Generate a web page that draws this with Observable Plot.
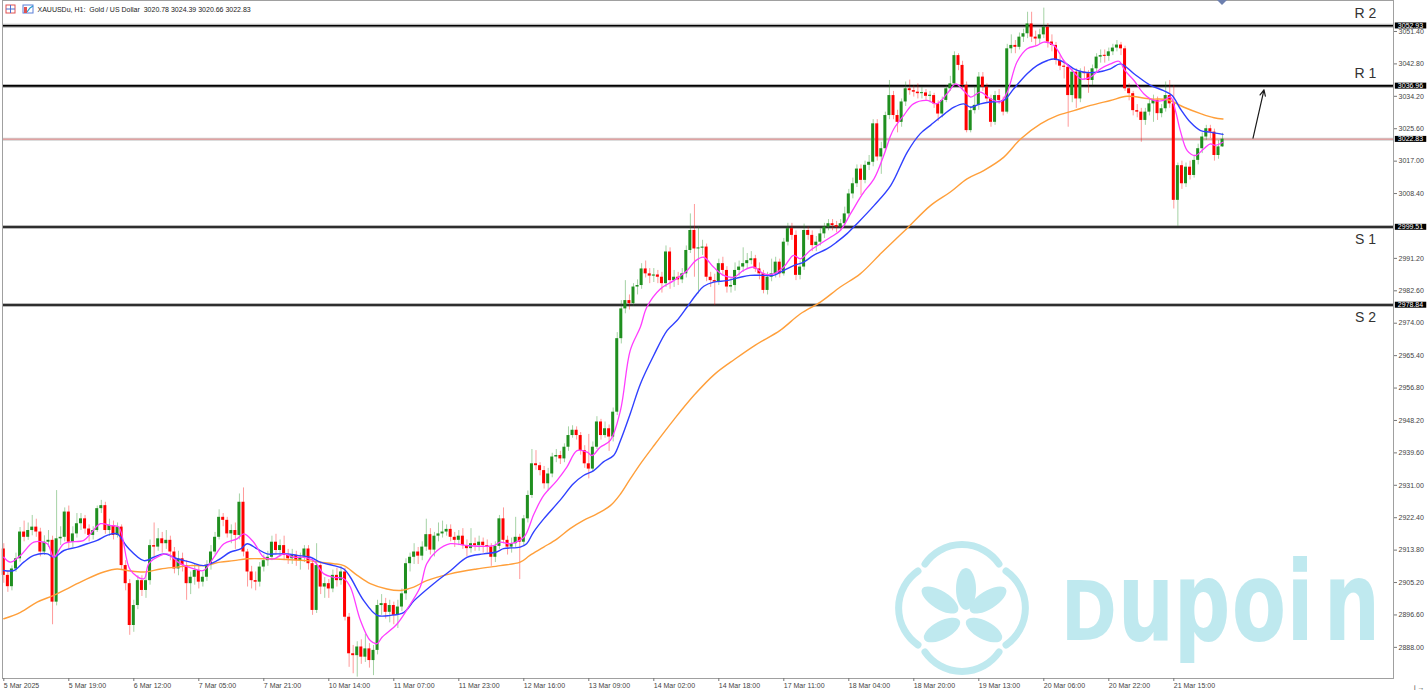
<!DOCTYPE html>
<html><head><meta charset="utf-8">
<script src="https://cdn.jsdelivr.net/npm/d3@7"></script>
<script src="https://cdn.jsdelivr.net/npm/@observablehq/plot@0.6"></script>
<style>
body{margin:0;background:#fff;}
#chart{position:relative;width:1427px;height:692px;overflow:hidden;background:#fff;}
#chart svg{position:absolute;left:0;top:0;}
</style></head><body><div id="chart"></div>
<script>
// ---- data (XAUUSDu H1) ----
const firstOpen = 2914.1;
const closes = [2907.1,2904.1,2908.8,2911.5,2918.6,2917.2,2919.0,2919.9,2918.6,2913.3,2915.9,2916.4,2900.0,2916.8,2917.2,2923.9,2915.9,2918.1,2920.8,2922.1,2919.4,2917.7,2919.0,2924.8,2925.6,2919.0,2920.3,2917.7,2919.9,2909.7,2904.9,2893.8,2899.1,2905.7,2903.1,2905.7,2915.0,2914.6,2916.8,2915.5,2916.4,2913.3,2908.8,2911.5,2909.7,2904.9,2906.6,2908.4,2905.3,2906.6,2909.7,2913.3,2917.2,2922.5,2921.7,2918.1,2919.0,2917.7,2926.5,2913.3,2908.0,2905.7,2905.3,2909.3,2911.0,2911.9,2915.9,2913.7,2915.0,2912.4,2911.5,2912.4,2911.0,2911.9,2914.1,2910.2,2897.8,2909.7,2904.0,2904.9,2903.5,2907.1,2905.7,2908.0,2896.0,2886.3,2885.8,2888.1,2885.4,2887.6,2884.5,2887.2,2899.1,2899.6,2897.3,2899.1,2896.5,2898.7,2902.2,2910.2,2911.9,2913.3,2912.2,2914.6,2917.9,2913.8,2917.5,2918.1,2918.6,2919.3,2917.2,2916.4,2917.5,2915.0,2914.2,2915.5,2915.0,2915.9,2915.0,2914.6,2911.9,2914.8,2922.1,2916.4,2914.6,2915.5,2917.2,2915.9,2922.1,2928.3,2936.7,2936.2,2934.9,2931.4,2934.0,2938.5,2938.9,2938.0,2941.1,2944.2,2945.6,2944.2,2940.2,2936.7,2935.3,2941.1,2947.8,2944.2,2946.0,2943.8,2950.4,2969.9,2977.8,2980.0,2979.2,2983.6,2984.0,2988.4,2987.1,2986.5,2986.8,2986.2,2984.5,2992.9,2985.3,2986.2,2985.5,2987.1,2993.3,2998.6,2993.7,2993.9,2994.2,2986.2,2985.3,2984.9,2989.8,2988.0,2983.6,2984.0,2988.0,2988.9,2989.8,2990.6,2991.1,2988.4,2987.1,2982.7,2986.2,2987.1,2990.2,2987.1,2995.5,2999.1,2997.3,2986.7,2988.9,2998.6,2997.3,2994.6,2995.5,2997.7,2999.5,3000.4,2999.9,2999.5,3000.4,3003.0,3008.3,3011.0,3014.9,3011.9,3015.9,3016.7,3026.9,3018.1,3020.3,3029.1,3034.4,3029.1,3027.3,3032.7,3036.2,3035.7,3035.3,3034.9,3035.1,3034.2,3034.4,3032.2,3029.5,3033.1,3036.2,3037.5,3045.0,3042.4,3037.1,3025.1,3030.4,3031.8,3039.3,3036.6,3033.5,3027.3,3034.4,3033.1,3030.0,3046.8,3047.7,3047.2,3049.9,3050.8,3053.4,3049.9,3049.4,3050.5,3052.5,3048.6,3047.7,3043.7,3042.2,3041.9,3034.4,3040.6,3033.5,3040.6,3040.2,3038.4,3041.5,3044.6,3045.0,3044.8,3046.0,3047.0,3047.8,3046.8,3036.2,3034.9,3030.4,3030.0,3027.8,3030.0,3032.2,3033.1,3029.6,3030.9,3034.4,3032.2,3006.6,3015.8,3011.0,3015.4,3013.2,3017.2,3020.3,3023.4,3025.6,3024.7,3018.5,3020.78,3022.83];
const highs = [2915.5,2908.2,2909.6,2913.0,2919.8,2921.5,2921.0,2923.0,2922.0,2919.6,2917.6,2919.0,2917.5,2929.6,2920.0,2925.0,2925.5,2920.0,2923.5,2923.5,2923.0,2920.5,2920.0,2925.5,2927.0,2926.5,2922.0,2921.5,2921.0,2920.5,2911.0,2906.0,2900.5,2907.0,2907.0,2907.5,2916.5,2921.0,2919.5,2918.5,2919.0,2917.5,2914.5,2913.5,2913.0,2911.0,2908.0,2910.0,2909.5,2908.0,2911.0,2915.0,2918.5,2924.5,2923.5,2922.5,2920.5,2921.0,2928.7,2930.3,2914.0,2909.5,2908.0,2910.5,2912.5,2913.5,2917.5,2918.0,2916.5,2917.5,2914.0,2914.0,2913.5,2913.0,2915.0,2915.0,2911.5,2915.5,2910.5,2906.5,2906.0,2908.5,2909.0,2909.5,2909.0,2897.0,2888.5,2889.5,2890.0,2891.5,2889.0,2888.5,2900.5,2902.0,2901.0,2900.5,2900.0,2900.5,2903.5,2911.5,2913.0,2915.5,2914.5,2916.0,2922.0,2919.5,2918.5,2921.0,2921.5,2920.5,2920.5,2918.5,2919.0,2919.5,2916.5,2919.5,2917.0,2917.5,2917.0,2916.5,2915.5,2916.0,2923.0,2925.0,2917.5,2917.0,2922.5,2918.0,2923.0,2929.5,2940.5,2940.2,2937.0,2936.0,2935.5,2939.5,2940.5,2940.0,2942.0,2946.5,2946.8,2946.5,2945.0,2941.5,2944.5,2942.5,2949.2,2948.5,2947.8,2947.0,2951.5,2971.5,2980.0,2985.3,2981.5,2984.5,2985.5,2989.8,2990.5,2988.5,2988.5,2988.0,2987.5,2994.5,2994.0,2988.0,2987.5,2988.5,2994.5,3003.0,3005.5,2999.5,2996.0,2995.0,2987.5,2987.0,2991.0,2991.5,2989.0,2986.0,2990.0,2990.5,2994.0,2992.5,2993.0,2992.0,2990.0,2988.0,2987.5,2991.0,2991.5,2991.0,2996.5,3000.5,3000.5,2998.5,2990.5,3000.3,2999.5,2998.5,2997.0,2999.0,3000.5,3001.5,3001.5,3001.0,3001.5,3004.8,3009.5,3012.5,3016.0,3016.0,3017.0,3018.5,3028.0,3028.0,3022.0,3030.0,3038.4,3035.5,3030.5,3033.5,3038.0,3038.5,3037.0,3037.5,3036.5,3036.0,3035.5,3035.0,3033.0,3034.0,3037.0,3039.5,3046.0,3045.5,3043.5,3038.0,3031.5,3036.7,3040.5,3040.5,3037.5,3034.5,3035.5,3036.0,3034.0,3048.0,3050.5,3049.0,3051.0,3052.0,3056.5,3056.5,3051.5,3052.0,3057.6,3053.5,3050.5,3048.5,3045.0,3043.5,3042.5,3041.5,3041.5,3041.5,3042.0,3041.0,3042.5,3045.5,3046.5,3046.5,3047.0,3048.0,3049.0,3048.5,3047.5,3037.5,3035.5,3032.0,3031.0,3031.0,3033.5,3034.5,3034.0,3032.0,3038.0,3038.4,3037.0,3016.5,3017.0,3016.5,3017.0,3018.5,3021.5,3024.5,3026.5,3026.5,3025.5,3022.5,3024.39];
const lows = [2905.0,2902.6,2903.0,2907.9,2910.6,2916.0,2916.4,2917.6,2917.2,2912.0,2912.4,2914.5,2894.0,2899.0,2915.0,2916.0,2914.0,2914.5,2917.0,2919.0,2918.0,2916.0,2916.5,2918.5,2923.5,2918.0,2917.5,2916.5,2917.0,2908.5,2903.0,2891.2,2892.0,2898.0,2901.5,2901.0,2904.5,2912.0,2913.5,2913.0,2914.0,2911.0,2907.5,2907.0,2908.0,2900.5,2902.0,2904.5,2903.5,2904.0,2905.5,2908.5,2912.5,2916.5,2920.0,2917.0,2915.5,2914.0,2916.5,2912.0,2904.0,2903.5,2903.0,2904.0,2908.0,2909.5,2911.0,2912.5,2912.0,2911.0,2910.0,2910.0,2909.5,2908.5,2910.5,2908.5,2896.5,2897.0,2902.0,2901.0,2901.0,2902.5,2904.0,2904.5,2895.0,2882.7,2881.0,2880.1,2883.5,2884.0,2882.5,2880.5,2886.0,2896.5,2895.5,2894.5,2894.0,2893.0,2897.5,2900.5,2908.0,2910.0,2910.0,2911.0,2913.5,2912.5,2912.0,2916.0,2917.0,2917.5,2916.0,2914.5,2915.0,2914.0,2912.0,2913.0,2913.5,2913.5,2913.0,2913.0,2909.5,2910.5,2914.0,2915.5,2912.5,2913.0,2914.5,2906.0,2915.0,2921.0,2927.5,2935.0,2933.5,2930.0,2929.5,2933.0,2937.0,2936.5,2937.0,2940.0,2943.5,2943.0,2939.0,2935.5,2932.7,2934.5,2940.5,2943.0,2943.5,2940.0,2942.5,2949.5,2968.5,2976.5,2977.5,2978.5,2981.5,2983.0,2986.0,2984.5,2984.8,2984.5,2982.0,2983.5,2983.0,2983.5,2984.0,2984.5,2986.0,2992.5,2986.2,2981.8,2992.0,2985.0,2983.5,2978.7,2984.0,2986.5,2982.0,2982.0,2982.5,2986.5,2987.5,2988.5,2989.5,2987.5,2985.5,2981.8,2981.5,2985.0,2986.0,2986.0,2986.5,2994.5,2996.0,2985.3,2985.5,2988.0,2996.0,2993.0,2993.0,2994.5,2996.5,2998.5,2998.5,2998.0,2998.5,2999.5,3002.0,3007.0,3010.0,3007.9,3011.0,3014.5,3015.5,3017.0,3013.5,3019.5,3028.0,3028.0,3024.5,3026.0,3031.5,3034.5,3034.0,3033.5,3033.5,3033.0,3032.5,3031.0,3027.5,3028.5,3032.5,3035.5,3036.5,3041.0,3036.0,3024.5,3024.5,3029.5,3030.5,3035.5,3032.5,3026.0,3026.5,3032.0,3029.0,3029.5,3045.5,3045.5,3046.5,3048.5,3049.5,3048.5,3047.5,3048.0,3049.5,3047.0,3046.0,3042.5,3041.0,3038.8,3026.0,3032.5,3031.0,3032.5,3038.5,3035.0,3037.0,3040.5,3043.0,3043.0,3043.5,3045.0,3046.0,3045.0,3035.5,3033.0,3029.0,3028.5,3022.0,3026.5,3029.0,3027.3,3027.8,3028.5,3030.0,3031.0,3004.3,2999.7,3009.5,3010.0,3012.0,3012.5,3016.0,3019.0,3022.5,3023.0,3017.0,3017.5,3020.66];
// moving averages read at sample bars: [bar, price]
const pinkMA = [[0,2911.9],[1.6,2910.6],[4.1,2912.4],[7.4,2915.9],[10.7,2915.5],[12.3,2911.9],[14.8,2915.5],[19.7,2916.4],[21.3,2918.1],[23.8,2920.8],[26.3,2920.3],[28.3,2919.9],[31.2,2908.4],[34.5,2906.2],[35.7,2910.2],[38.6,2912.4],[40.2,2912.8],[43.5,2910.2],[46.8,2908.8],[49.2,2908.4],[51.7,2911.9],[54.2,2915.5],[57.4,2916.8],[59.1,2918.1],[61.5,2915.9],[64,2911.9],[66.5,2911.5],[68.9,2912.8],[71.4,2911.9],[73.8,2911.9],[76.3,2911.0],[78.8,2907.5],[81.2,2906.6],[83.7,2906.2],[85.3,2904.0],[87.8,2895.1],[90.2,2889.8],[91.9,2889.0],[93.1,2890.7],[96.8,2894.2],[100.1,2899.5],[102.5,2904.0],[104.1,2910.2],[106.5,2913.5],[109.9,2915.5],[114,2915.0],[120.6,2915.0],[122.2,2915.9],[124.6,2915.5],[128,2917.2],[130.5,2923.4],[132.9,2928.3],[136.2,2932.3],[138.6,2935.8],[141.1,2940.2],[143.6,2939.8],[144.8,2938.9],[146.8,2941.1],[149.3,2942.9],[151.8,2950.9],[154.2,2966.8],[156.7,2973.0],[158.3,2978.3],[161.6,2983.1],[164.9,2985.3],[168.2,2988.0],[170.3,2990.6],[172.3,2991.5],[174.7,2988.9],[177.2,2986.7],[179.7,2986.2],[182.1,2988.0],[184.6,2988.9],[187.1,2987.1],[189.5,2987.1],[192,2988.9],[194.4,2992.0],[196.1,2991.1],[198.5,2993.3],[201,2995.1],[203.5,2996.8],[205.9,2998.6],[208.4,3003.0],[210.9,3007.5],[211.7,3008.8],[214.2,3012.3],[216.6,3018.5],[218.3,3023.8],[219.1,3025.6],[221.5,3029.1],[223.9,3032.2],[227.3,3033.1],[229.6,3032.2],[232.2,3034.9],[234.3,3037.5],[236.3,3035.7],[238,3034.0],[240.4,3035.3],[242.9,3033.5],[245.3,3032.7],[247,3035.3],[249.4,3043.3],[251.9,3046.8],[254.4,3047.7],[256,3048.6],[258.5,3047.7],[260.9,3043.7],[263.4,3040.6],[265.1,3038.8],[267.5,3039.3],[270,3041.5],[272.4,3042.8],[274.5,3043.5],[276,3041.0],[278.2,3038.4],[280.6,3034.9],[283.1,3033.1],[285.5,3033.1],[287.2,3034.0],[288.4,3030.4],[289.6,3025.1],[291.3,3019.8],[293.3,3018.5],[295.4,3020.3],[297,3021.6],[298.2,3021.2],[300.1,3022.0]];
const blueMA = [[0,2908.4],[2.5,2908.4],[4.9,2910.6],[7.4,2912.4],[10.7,2912.8],[12.3,2911.9],[14.8,2913.7],[18.1,2914.6],[20.5,2915.5],[23,2916.4],[25.4,2917.7],[27.9,2918.1],[30.4,2914.6],[34.5,2911.0],[36.9,2911.9],[39.4,2912.8],[42.7,2911.5],[45.9,2910.6],[49.2,2909.7],[52.5,2911.0],[55.8,2913.3],[58.3,2914.1],[59.9,2915.5],[62.4,2914.1],[64.8,2912.8],[67.3,2912.8],[69.7,2912.8],[72.2,2912.4],[75.5,2911.9],[77.9,2910.6],[81.2,2909.7],[83.7,2908.8],[85.3,2906.6],[88.6,2900.4],[91.9,2896.5],[95.2,2896.5],[98.5,2897.3],[101,2900.4],[105.8,2904.9],[110,2908.4],[114,2911.9],[118.1,2912.8],[121.3,2913.3],[123,2914.2],[127.1,2914.6],[128.7,2915.5],[130.4,2918.6],[132.9,2922.1],[136.9,2927.0],[140.2,2931.4],[142.7,2933.6],[145.2,2934.9],[147.6,2937.2],[150.1,2938.9],[151.8,2942.9],[154.2,2950.0],[156.7,2957.9],[160,2965.5],[163.3,2972.1],[165.7,2974.7],[168.2,2978.3],[170.6,2981.8],[172.3,2983.8],[174.7,2984.9],[178,2985.3],[181.3,2986.2],[183.7,2986.7],[187.1,2986.7],[189.5,2986.7],[192,2988.0],[194.4,2989.3],[196.9,2990.2],[199.3,2992.0],[202.6,2993.7],[205,2995.5],[207.5,2997.7],[210,3000.4],[214.2,3005.2],[218.3,3010.5],[222.4,3019.4],[225.6,3024.3],[228.1,3026.5],[230.6,3028.7],[233.9,3031.3],[236.3,3032.2],[238,3031.3],[240.4,3032.2],[242.9,3032.7],[246.1,3033.1],[248.6,3036.2],[251.9,3040.2],[254.4,3042.4],[256.9,3043.7],[258.5,3044.1],[260.9,3043.3],[263.4,3041.5],[265.9,3040.6],[269.1,3040.6],[272.4,3041.5],[274.9,3042.8],[278.2,3040.2],[282.3,3037.1],[285.5,3035.7],[287.6,3034.4],[289.6,3030.9],[292.1,3027.3],[294.6,3025.1],[297,3024.7],[300.1,3024.1]];
const orangeMA = [[0,2895.6],[4.1,2897.3],[8.2,2900.0],[12.3,2901.8],[16.4,2904.0],[20.5,2906.2],[24.6,2908.0],[27.9,2908.8],[30.4,2908.4],[34.5,2908.0],[38.6,2908.8],[42.7,2909.3],[45.9,2909.7],[49.2,2909.7],[53.3,2910.6],[56.6,2911.0],[59.9,2911.5],[64.8,2911.5],[69.7,2911.3],[74.7,2911.0],[77.9,2910.6],[81.2,2910.2],[83.7,2909.7],[87,2907.1],[90.2,2904.9],[94.3,2903.5],[97.6,2903.1],[100.9,2904.0],[104.1,2905.7],[109.9,2907.5],[116.4,2908.8],[122.2,2909.7],[127.1,2910.6],[129.5,2912.4],[132.9,2914.6],[136.2,2916.8],[139.4,2919.5],[142.7,2921.7],[146,2923.4],[149.3,2925.6],[151.8,2928.7],[154.2,2932.7],[156.7,2936.7],[160,2941.5],[165,2948.5],[170,2955.0],[175,2960.5],[180,2964.5],[185,2968.2],[191.1,2972.1],[196.1,2976.5],[201,2979.6],[205.9,2983.6],[210.8,2987.1],[216,2992.6],[222,2998.8],[228.1,3005.2],[233,3008.8],[237.1,3012.3],[241.2,3014.5],[246.1,3018.0],[250.3,3022.9],[255.2,3026.9],[259.3,3029.1],[263.4,3030.4],[267.5,3031.8],[272.4,3033.1],[276.5,3034.2],[282.3,3033.5],[286.4,3033.3],[290.5,3031.3],[294.6,3029.6],[297.9,3028.5],[300.1,3028.2]];
const levelPrices = [3052.93, 3036.96, 2999.51, 2978.84];
const levelNames = ["R 2", "R 1", "S 1", "S 2"];
const lastPrice = 3022.83;
const yTicks = [2888.00,2896.60,2905.20,2913.80,2922.40,2931.00,2939.60,2948.20,2956.80,2965.40,2974.00,2982.60,2991.20,3008.40,3017.00,3025.60,3034.20,3042.80,3051.40];
const xTickBars = [0,16,32,48,64,80,96,112,128,144,160,176,192,208,224,240,256,272,288];
const xTickLabels = ["5 Mar 2025","5 Mar 19:00","6 Mar 12:00","7 Mar 05:00","7 Mar 21:00","10 Mar 14:00","11 Mar 07:00","11 Mar 23:00","12 Mar 16:00","13 Mar 09:00","14 Mar 02:00","14 Mar 18:00","17 Mar 11:00","18 Mar 04:00","18 Mar 20:00","19 Mar 13:00","20 Mar 06:00","20 Mar 22:00","21 Mar 15:00"];
const headerText = "XAUUSDu, H1:  Gold / US Dollar  3020.78 3024.39 3020.66 3022.83";
const arrowFrom = [307.5, 3023.1];
const arrowTo = [310.2, 3035.9];

// ---- build ----
const GREEN = "#1f8f1f", RED = "#ff0000";
const candles = closes.map((c, i) => {
  const o = i === 0 ? firstOpen : closes[i - 1]; // each H1 candle opens at the prior close
  return {i, o, c, h: Math.max(highs[i], o, c), l: Math.min(lows[i], o, c)};
});
const up = candles.filter(d => d.c >= d.o), down = candles.filter(d => d.c < d.o);
const levels = levelPrices.map((p, k) => ({p, n: levelNames[k]}));
const tagValues = [...levelPrices, lastPrice];
const tagStrings = tagValues.map(d => d.toFixed(2));
const body = {
  x1: d => d.i - 0.37, x2: d => d.i + 0.37,
  y1: d => Math.min(d.o, d.c), y2: d => Math.max(Math.max(d.o, d.c), Math.min(d.o, d.c) + 0.28)
};

const chart = Plot.plot({
  width: 1427, height: 692,
  marginLeft: 2, marginRight: 34, marginTop: 0, marginBottom: 14,
  x: {domain: [-0.32, 342.08], axis: null},
  y: {domain: [2879.74, 3059.62], axis: null},
  style: {fontFamily: "'Liberation Sans', Arial, sans-serif", background: "transparent", overflow: "visible"},
  marks: [
    Plot.ruleY([lastPrice], {stroke: "#d0d0d0", strokeWidth: 3}),
    Plot.ruleY([lastPrice], {stroke: "#e88a8a", strokeWidth: 1}),
    Plot.ruleY(levelPrices, {stroke: "#b8b8b8", strokeWidth: 4}),
    Plot.ruleY(levelPrices, {stroke: "#000", strokeWidth: 1.6}),
    Plot.ruleX(up, {x: "i", y1: "l", y2: "h", stroke: GREEN, strokeOpacity: 0.4, strokeWidth: 1}),
    Plot.ruleX(down, {x: "i", y1: "l", y2: "h", stroke: RED, strokeOpacity: 0.4, strokeWidth: 1}),
    Plot.rect(up, {...body, fill: GREEN}),
    Plot.rect(down, {...body, fill: RED}),
    Plot.line(orangeMA, {x: d => d[0], y: d => d[1], stroke: "#ff9f3a", strokeWidth: 1.4, curve: "catmull-rom"}),
    Plot.line(blueMA, {x: d => d[0], y: d => d[1], stroke: "#3040ff", strokeWidth: 1.4, curve: "catmull-rom"}),
    Plot.line(pinkMA, {x: d => d[0], y: d => d[1], stroke: "#ff3cff", strokeWidth: 1.3, curve: "catmull-rom"}),
    Plot.arrow([[...arrowFrom, ...arrowTo]], {x1: d => d[0], y1: d => d[1], x2: d => d[2], y2: d => d[3], stroke: "#1a1a1a", strokeWidth: 1.2, headLength: 8, headAngle: 50}),
    Plot.text(levels.filter(d => d.n[0] === "R"), {y: "p", text: "n", frameAnchor: "right", textAnchor: "middle", dx: -28, dy: -12, fontSize: 14, fill: "#333"}),
    Plot.text(levels.filter(d => d.n[0] === "S"), {y: "p", text: "n", frameAnchor: "right", textAnchor: "middle", dx: -28, dy: 12.5, fontSize: 14, fill: "#333"}),
    Plot.frame({stroke: "#a0a0a0"}),
    Plot.axisY({anchor: "right", ticks: yTicks, tickFormat: d => d.toFixed(2), tickSize: 3, tickPadding: 2, fontSize: 7, fill: "#444", stroke: "#777"}),
    Plot.axisX({ticks: xTickBars, tickFormat: d => xTickLabels[xTickBars.indexOf(d)], tickSize: 3, tickPadding: 2, textAnchor: "start", fontSize: 7, fill: "#444", stroke: "#777"}),
    Plot.text(tagValues, {y: d => d, text: d => d.toFixed(2), frameAnchor: "right", textAnchor: "middle", dx: 17, fill: "#fff", fontSize: 7}),
    Plot.text([headerText], {frameAnchor: "top-left", dx: 35, dy: 9, textAnchor: "start", lineAnchor: "middle", fontSize: 7, fill: "#222"})
  ]
});
const host = document.getElementById("chart");
host.appendChild(chart);

// black boxes behind the right-axis price tags (white text, right of the frame)
chart.querySelectorAll("text").forEach(t => {
  if (!tagStrings.includes(t.textContent.trim())) return;
  if (t.getAttribute("fill") !== "#fff" && t.parentNode.getAttribute("fill") !== "#fff") return;
  const b = t.getBBox();
  const r = document.createElementNS("http://www.w3.org/2000/svg", "rect");
  r.setAttribute("x", b.x - 3); r.setAttribute("y", b.y + 0.5);
  r.setAttribute("width", b.width + 6); r.setAttribute("height", b.height - 1);
  r.setAttribute("fill", "#000");
  if (t.getAttribute("transform")) r.setAttribute("transform", t.getAttribute("transform"));
  t.parentNode.insertBefore(r, t);
});

// header icons, shift marker and watermark (decoration)
const deco = document.createElement("div");
deco.innerHTML = `
<svg style="position:absolute;left:5px;top:4px" width="30" height="11">
  <rect x="1" y="1" width="9" height="8" fill="#fff" stroke="#e05050" stroke-width="1"/>
  <line x1="1" y1="5" x2="10" y2="5" stroke="#4a6fd0"/><line x1="5.5" y1="1" x2="5.5" y2="9" stroke="#4a6fd0"/>
  <rect x="18" y="1" width="10" height="8" fill="#fff" stroke="#5a7fd8" stroke-width="1"/>
  <rect x="19" y="3" width="3" height="6" fill="#e05050"/><polyline points="22,8 25,4 28,2" fill="none" stroke="#2a9ad0" stroke-width="1.2"/>
</svg>
<svg style="position:absolute;left:1217px;top:0px" width="10" height="6"><polygon points="0,0 10,0 5,5" fill="#6c7fae"/></svg>
<div style="position:absolute;left:880px;top:530px;width:512px;height:147px;overflow:hidden;pointer-events:none">
<svg width="512" height="147">
  <g fill="none" stroke="#bfe9ef" stroke-width="7" stroke-linecap="round">
    <path d="M45,34 A45,45 0 0 1 119,34"/><path d="M126,41 A45,45 0 0 1 126,115"/>
    <path d="M119,122 A45,45 0 0 1 45,122"/><path d="M38,115 A45,45 0 0 1 38,41"/>
  </g>
  <g fill="#bfe9ef">
    <ellipse cx="86" cy="59" rx="10" ry="21"/>
    <ellipse cx="60" cy="70" rx="21" ry="9" transform="rotate(32 60 70)"/>
    <ellipse cx="108" cy="70" rx="21" ry="9" transform="rotate(-32 108 70)"/>
    <ellipse cx="62" cy="100" rx="20" ry="9" transform="rotate(-28 62 100)"/>
    <ellipse cx="104" cy="100" rx="20" ry="9" transform="rotate(28 104 100)"/>
  </g>
  <g font-family="DejaVu Sans" font-weight="bold" fill="#bfe9ef" text-anchor="middle">
    <text transform="translate(209,110) scale(0.82,1)" font-size="82">D</text>
    <text transform="translate(266,110) scale(0.72,1)" font-size="110">u</text>
    <text transform="translate(322,110) scale(0.72,1)" font-size="110">p</text>
    <text transform="translate(379,110) scale(0.72,1)" font-size="110">o</text>
    <text transform="translate(420,110) scale(0.72,1)" font-size="110">i</text>
    <text transform="translate(472,110) scale(0.72,1)" font-size="110">n</text>
  </g>
</svg></div>`;
host.appendChild(deco);
</script></body></html>
